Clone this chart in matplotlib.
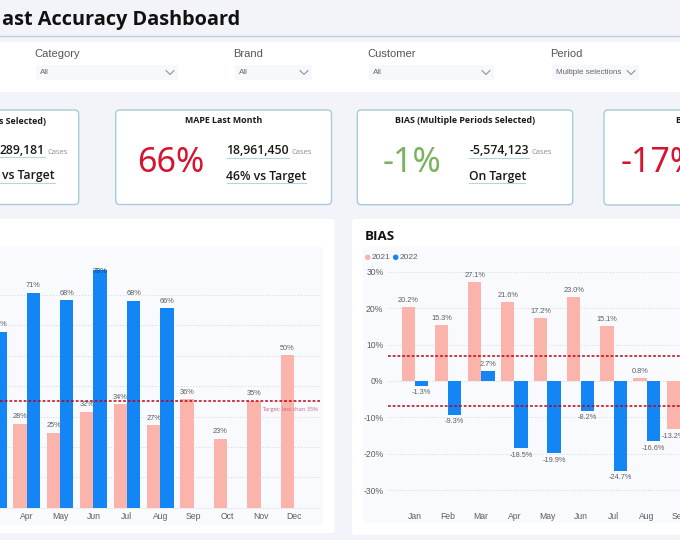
import numpy as np
import matplotlib
matplotlib.use("Agg")
import matplotlib.pyplot as plt
from matplotlib.patches import FancyBboxPatch, Rectangle

W, H = 680, 540
PT = 0.72  # points per pixel at dpi 100

# ---- data ----
mape_months = ["Mar", "Apr", "May", "Jun", "Jul", "Aug", "Sep", "Oct", "Nov", "Dec"]
mape_2021 = [np.nan, 27.6, 24.6, 31.6, 34.0, 27.1, 35.7, 22.6, 35.2, 50.2]
mape_2022 = [57.9, 70.7, 68.3, 78.2, 68.1, 65.6, np.nan, np.nan, np.nan, np.nan]
mape_target = 35

bias_months = ["Jan", "Feb", "Mar", "Apr", "May", "Jun", "Jul", "Aug", "Sep"]
bias_2021 = [20.2, 15.3, 27.1, 21.6, 17.2, 23.0, 15.1, 0.8, -13.2]
bias_2022 = [-1.3, -9.3, 2.7, -18.5, -19.9, -8.2, -24.7, -16.6, np.nan]
bias_target = 7
bias_ticks = [-30, -20, -10, 0, 10, 20, 30]

filter_names = ["Category", "Brand", "Customer", "Period"]
filter_values = ["All", "All", "All", "Multiple selections"]

# ---- styles ----
BG = "#f3f4f9"
PANEL = "#f9fafd"
PINK = "#fbb4ab"
BLUE = "#1485f5"
RED = "#d5152f"
GREEN = "#7ab35f"
EDGE = "#a9cbd6"
GRID = "#d2d4d9"
TGT = "#c00010"
LABEL = "#5e5e5e"
SANS = "Liberation Sans"
HEAD = "Open Sans"
VAL_FS = 5.3
TICK_FS = 6.2

fig = plt.figure(figsize=(W / 100, H / 100), dpi=100, facecolor=BG)
bg = fig.add_axes([0, 0, 1, 1], zorder=0)
bg.set_xlim(0, W)
bg.set_ylim(H, 0)
bg.axis("off")


def rbox(x0, y0, x1, y1, fc="white", ec="none", lw=0, r=3, z=1):
    bg.add_patch(FancyBboxPatch((x0 + r, y0 + r), x1 - x0 - 2 * r, y1 - y0 - 2 * r,
                                boxstyle=f"round,pad={r},rounding_size={r}",
                                fc=fc, ec=ec, lw=lw, zorder=z))


# ---- header ----
bg.text(240, 25.5, "ast Accuracy Dashboard", ha="right", va="baseline", family=HEAD,
        weight="bold", fontsize=14.3, color="#111111")
bg.plot([0, W], [35.7, 35.7], color="#bcd0d9", lw=1)

# ---- filter band ----
bg.add_patch(Rectangle((0, 41.5), W, 50.5, fc="white", ec="none"))
filter_boxes = [(36, 178), (235, 312), (369, 494), (552, 639)]
filter_label_x = [34.5, 233.5, 367.5, 550]
for name, val, (x0, x1), lx in zip(filter_names, filter_values, filter_boxes, filter_label_x):
    bg.text(lx, 54, name, ha="left", va="center", family=SANS, fontsize=8, color="#555555")
    bg.add_patch(Rectangle((x0, 65), x1 - x0, 15, fc="#f7f8fb", ec="none"))
    bg.text(x0 + 3.5, 72.7, val, ha="left", va="center", family=SANS, fontsize=5.8, color="#666666")
    bg.plot([x1 - 12, x1 - 8, x1 - 4], [70.5, 74.5, 70.5], color="#7d8a96", lw=0.7)

# ---- KPI cards ----
rbox(-10, 110, 78.7, 204.5, ec=EDGE, lw=1, r=4)
rbox(115.7, 110, 331.5, 204.5, ec=EDGE, lw=1, r=4)
rbox(357.3, 110, 572.7, 204.7, ec=EDGE, lw=1, r=4)
rbox(604, 110, 700, 205, ec=EDGE, lw=1, r=4)


def kpi_title(x, y, s, ha="center"):
    bg.text(x, y, s, ha=ha, va="center", family=HEAD, weight="bold", fontsize=6.4, color="#1a1a1a")


def kpi_big(x, s, c, ha="center"):
    bg.text(x, 163, s, ha=ha, va="center", family="Noto Sans", weight="medium", fontsize=24.5, color=c)


def kpi_line(x, y, s, x_line0, x_line1, ha="left"):
    bg.text(x, y, s, ha=ha, va="baseline", family=HEAD, weight="semibold", fontsize=8.8, color="#1a1a1a")
    bg.plot([x_line0, x_line1], [y + 3, y + 3], color="#b7d3dd", lw=0.8)


def kpi_cases(x, y):
    bg.text(x, y, "Cases", ha="left", va="baseline", family=HEAD, fontsize=5.4, color="#8b8b8b")


kpi_title(46, 122, "s Selected)", ha="right")
kpi_line(44.5, 153.5, "289,181", 0, 44.5, ha="right")
kpi_cases(47.5, 153.5)
kpi_line(54.7, 179.5, "vs Target", 0, 54.7, ha="right")

kpi_title(223.5, 120.5, "MAPE Last Month")
kpi_big(170.7, "66%", RED)
kpi_line(226.5, 154.5, "18,961,450", 226.5, 288.5)
kpi_cases(291, 154.5)
kpi_line(226.5, 180, "46% vs Target", 226.5, 305.5)

kpi_title(465, 120.5, "BIAS (Multiple Periods Selected)")
kpi_big(411.7, "-1%", GREEN)
kpi_line(469.3, 154.5, "-5,574,123", 469.3, 529)
kpi_cases(532, 154.5)
kpi_line(469.3, 180, "On Target", 469.3, 525)

kpi_title(675, 120.5, "B", ha="left")
kpi_big(620.5, "-17%", RED, ha="left")

# ---- chart panels ----
rbox(-10, 219, 334.5, 533, r=3)
rbox(352, 219, 700, 535, r=3)
bg.add_patch(Rectangle((0, 247), 323, 278, fc=PANEL, ec="none", zorder=2))
bg.add_patch(Rectangle((362.7, 247), 330, 276, fc=PANEL, ec="none", zorder=2))
bg.text(365, 240, "BIAS", ha="left", va="baseline", family=HEAD, weight="bold", fontsize=9.6,
        color="#111111", zorder=3)

# legend of BIAS panel
bg.scatter([367.7, 395.7], [257.3, 257.3], s=16, c=[PINK, BLUE], linewidths=0, zorder=3)
bg.text(371.5, 257.3, "2021", ha="left", va="center", family=SANS, fontsize=6, color=LABEL, zorder=3)
bg.text(399.5, 257.3, "2022", ha="left", va="center", family=SANS, fontsize=6, color=LABEL, zorder=3)


def make_axes(x0, y_top, x1, y_bottom):
    ax = fig.add_axes([x0 / W, 1 - y_bottom / H, (x1 - x0) / W, (y_bottom - y_top) / H], zorder=2)
    ax.patch.set_alpha(0)
    for s in ax.spines.values():
        s.set_visible(False)
    return ax


def value_labels(ax, xs, vals, fmt, c=LABEL):
    for x, v in zip(xs, vals):
        if np.isnan(v):
            continue
        off = 7 if v >= 0 else -7
        ax.annotate(fmt.format(v), (x, v), xytext=(0, off * PT), textcoords="offset points",
                    ha="center", va="center", family=SANS, fontsize=VAL_FS, color=c,
                    annotation_clip=False, zorder=6)


# ---- left chart (MAPE) ----
L_SPACING = 33.4
L_FIRST = -6.7
L_ZERO = 507.7
L_SCALE = 3.04
axl = make_axes(0, 247, 323, L_ZERO)
axl.set_xlim((0 - L_FIRST) / L_SPACING, (323 - L_FIRST) / L_SPACING)
axl.set_ylim(0, (L_ZERO - 247) / L_SCALE)
xl = np.arange(len(mape_months))
bw = 13.3 / L_SPACING
l_grid = np.arange(0, 80, 10)
axl.hlines(l_grid, axl.get_xlim()[0], (320 - L_FIRST) / L_SPACING, color=GRID, lw=0.7,
           linestyle=(0, (1, 2)), zorder=1, clip_on=False)
axl.bar(xl - bw / 2, mape_2021, bw, color=PINK, zorder=3)
axl.bar(xl + bw / 2, mape_2022, bw, color=BLUE, zorder=3)
axl.hlines(mape_target, axl.get_xlim()[0], (320 - L_FIRST) / L_SPACING, color=TGT, lw=1.1,
           linestyle=(0, (1.8, 1.3)), zorder=5)
value_labels(axl, xl - bw / 2, mape_2021, "{:.0f}%")
top = np.nanmax(mape_2022)
value_labels(axl, xl + bw / 2, [v if v != top else np.nan for v in mape_2022], "{:.0f}%")
axl.annotate(f"{top:.0f}%", (xl[mape_2022.index(top)] + bw / 2, top), xytext=(0, -2 * PT),
             textcoords="offset points", ha="center", va="center", family=SANS, fontsize=VAL_FS,
             color="#17457a", zorder=6)
axl.annotate("Target: less than 35%", (318, 409), xycoords=bg.transData, ha="right", va="center",
             family=HEAD, fontsize=4.1, color="#c4607a", zorder=7)
axl.set_yticks([])
axl.set_xticks(xl[1:])
axl.set_xticklabels(mape_months[1:], family=SANS, fontsize=TICK_FS, color=LABEL)
axl.tick_params(axis="x", length=0, pad=2.8)

# ---- right chart (BIAS) ----
R_X0 = 388
R_SPACING = 33.1
R_FIRST = 415
R_ZERO = 381
R_SCALE = 3.64
R_BOTTOM = R_ZERO + 30 * R_SCALE
axr = make_axes(R_X0, 247, W, R_BOTTOM)
axr.set_xlim((R_X0 - R_FIRST) / R_SPACING, (W - R_FIRST) / R_SPACING)
axr.set_ylim(-30, (R_ZERO - 247) / R_SCALE)
xr = np.arange(len(bias_months))
bwr = 13.3 / R_SPACING
axr.hlines(bias_ticks, *axr.get_xlim(), color=GRID, lw=0.7, linestyle=(0, (1, 2)), zorder=1, clip_on=False)
axr.bar(xr - bwr / 2, bias_2021, bwr, color=PINK, zorder=3)
axr.bar(xr + bwr / 2, bias_2022, bwr, color=BLUE, zorder=3)
for t in (bias_target, -bias_target):
    axr.hlines(t, *axr.get_xlim(), color=TGT, lw=1.1, linestyle=(0, (1.8, 1.3)), zorder=5)
value_labels(axr, xr - bwr / 2, bias_2021, "{:.1f}%")
value_labels(axr, xr + bwr / 2, bias_2022, "{:.1f}%")
axr.set_yticks(bias_ticks)
axr.set_yticklabels([f"{t}%" for t in bias_ticks], family=SANS, fontsize=TICK_FS, color=LABEL)
axr.tick_params(axis="y", length=0, pad=3.4)
axr.set_xticks(xr)
axr.set_xticklabels(bias_months, family=SANS, fontsize=TICK_FS, color=LABEL)
axr.tick_params(axis="x", length=0, pad=15.4)

fig.savefig("out.png", dpi=100, facecolor=BG)
